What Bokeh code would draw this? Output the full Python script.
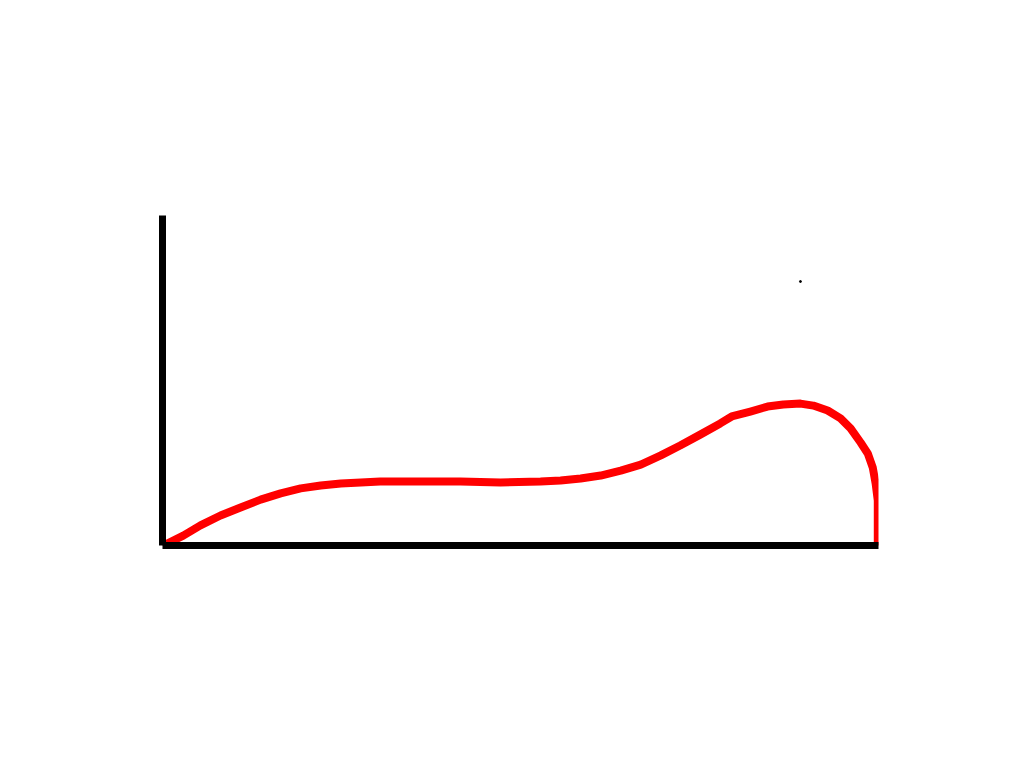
from bokeh.plotting import figure
from bokeh.models import Range1d
from bokeh.embed import file_html
from bokeh.resources import INLINE

# Curve values (x: 0-100, y: 0-100)
curve_x = [0.1, 2.9, 5.3, 8.1, 10.9, 13.7, 16.5, 19.3, 22.1,
           24.9, 27.7, 30.4, 36.0, 41.6, 47.2, 52.8, 55.6, 58.4, 61.2,
           64.0, 66.8, 69.6, 72.3, 75.1, 77.9, 79.5, 82.1, 84.5, 86.7,
           89.1, 90.9, 92.9, 94.7, 96.1, 97.5, 98.5, 99.2, 99.6, 99.9,
           99.9, 99.9]
curve_y = [0.0, 3.0, 6.1, 9.1, 11.5, 13.9, 15.8, 17.3, 18.2,
           18.8, 19.1, 19.4, 19.4, 19.4, 19.1, 19.4, 19.7, 20.3, 21.2,
           22.7, 24.5, 27.3, 30.3, 33.6, 37.0, 39.1, 40.6, 42.1, 42.7,
           43.0, 42.4, 40.9, 38.5, 35.5, 31.2, 27.9, 23.6, 18.8, 13.6,
           8.5, 0.9]

dot_x = [89.1]
dot_y = [80.0]

p = figure(width=1008, height=752, output_backend="svg", toolbar_location=None,
           x_range=Range1d(0, 100), y_range=Range1d(0, 100),
           min_border_left=162, min_border_right=130,
           min_border_top=215, min_border_bottom=207)
p.outline_line_color = None
p.grid.visible = False
p.background_fill_color = "white"
p.border_fill_color = "white"

for ax in (p.xaxis, p.yaxis):
    ax.axis_line_width = 7
    ax.axis_line_color = "black"
    ax.major_tick_line_color = None
    ax.minor_tick_line_color = None
    ax.major_label_text_font_size = "0pt"
    ax.major_label_text_color = None

p.line(curve_x, curve_y, line_color="#ff0000", line_width=8,
       line_join="round", line_cap="round")
p.scatter(dot_x, dot_y, size=2, color="black")

open("out.html", "w").write(file_html(p, INLINE))
